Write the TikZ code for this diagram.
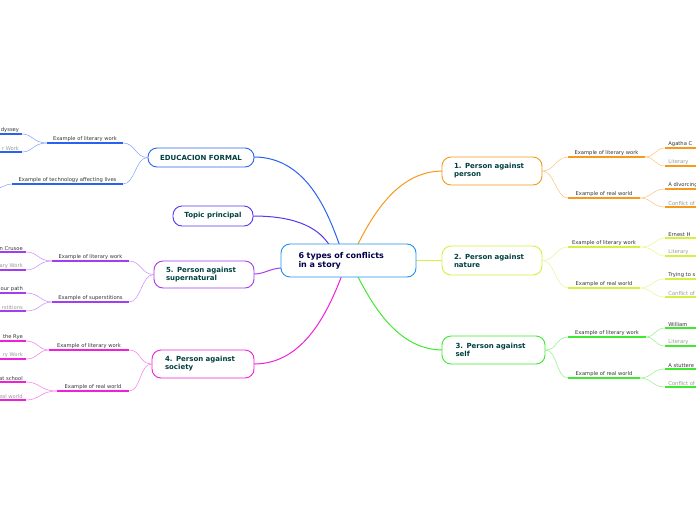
\documentclass[tikz,border=0pt]{standalone}
\usepackage{fontspec}
\setmainfont{DejaVu Sans}
\begin{document}
\begin{tikzpicture}[x=1pt,y=-1pt,
 mainbox/.style={draw=#1,line width=0.9pt,rounded corners=9pt,fill=white,text=teal!50!black,font=\fontsize{7}{8}\selectfont\bfseries,align=left,inner sep=0pt},
 lbl/.style={font=\fontsize{5.2}{6}\selectfont,text=black!80,inner sep=1pt},
 gry/.style={font=\fontsize{5.2}{6}\selectfont,text=black!40,inner sep=1pt},
 ul/.style={draw=#1,line width=1.3pt},
 cn/.style={draw=#1!60,line width=0.5pt}]
\definecolor{cblue}{HTML}{2A62F0}\definecolor{cpb}{HTML}{5B35F0}\definecolor{cpur}{HTML}{A43CF0}
\definecolor{cmag}{HTML}{F020D8}\definecolor{cor}{HTML}{F59A1A}\definecolor{cyel}{HTML}{D4F040}\definecolor{cgr}{HTML}{40E830}
\useasboundingbox (0,0) rectangle (696,520);
\clip (0,0) rectangle (696,520);
\draw[cblue,line width=1pt] (254,157) .. controls (310,157) and (330,220) .. (340,246);
\draw[cpb,line width=1pt] (253,216) .. controls (300,216) and (320,230) .. (330,246);
\draw[cpur,line width=1pt] (254,274) .. controls (265,274) and (270,268) .. (283,268);
\draw[cmag,line width=1pt] (254,364) .. controls (300,364) and (325,320) .. (342,275);
\draw[cor,line width=1pt] (443,171) .. controls (400,171) and (375,210) .. (357,246);
\draw[cyel,line width=1pt] (443,260) -- (414,260);
\draw[cgr,line width=1pt] (443,350) .. controls (400,350) and (375,310) .. (357,275);
\node[mainbox=cblue!70!cyan,minimum width=135pt,minimum height=33pt,text=blue!30!black,font=\fontsize{8}{9}\selectfont\bfseries,text width=100pt] (c) at (348.5,260.5) {6 types of conflicts\\in a story};
\node[mainbox=cblue,minimum width=106pt,minimum height=19pt,align=center] (edu) at (201,157.5) {EDUCACION FORMAL};
\node[mainbox=cpb,minimum width=80pt,minimum height=20pt,align=center] (top) at (213,216) {Topic principal};
\node[mainbox=cpur,minimum width=100pt,minimum height=27pt,text width=76pt] (sup) at (204,274.5) {5. Person against\\ supernatural};
\node[mainbox=cmag,minimum width=102pt,minimum height=28pt,text width=76pt] (soc) at (203,364) {4. Person against\\society};
\node[mainbox=cor,minimum width=100pt,minimum height=28pt,text width=76pt] (per) at (492,171) {1. Person against\\ person};
\node[mainbox=cyel,minimum width=100pt,minimum height=29pt,text width=76pt] (nat) at (492,260.5) {2. Person against\\ nature};
\node[mainbox=cgr,minimum width=103pt,minimum height=28pt,text width=76pt] (self) at (493.5,350) {3. Person against\\self};
\foreach \col/\pn/\ya/\yb/\la/\lb/\tA/\tB/\tC/\tD/\xe/\xeb in {
 cor/per/157/198/{Example of literary work}/{Example of real world}/{Agatha C}/{Literary}/{A divorcing}/{Conflict of}/645/640,
 cyel/nat/247/288/{Example of literary work}/{Example of real world}/{Ernest H}/{Literary}/{Trying to s}/{Conflict of}/640/640,
 cgr/self/337/378/{Example of literary work}/{Example of real world}/{William}/{Literary}/{A stuttere}/{Conflict of}/646/640}{
 \draw[cn=\col] (\pn.east) .. controls ++(12,0) and (556,\ya) .. (568,\ya);
 \draw[cn=\col] (\pn.east) .. controls ++(12,0) and (556,\yb) .. (568,\yb);
 \draw[ul=\col] (568,\ya) -- (\xe,\ya) node[lbl,midway,above] {\la};
 \draw[ul=\col] (568,\yb) -- (\xeb,\yb) node[lbl,midway,above] {\lb};
 \draw[cn=\col] (\xe,\ya) .. controls (655,\ya) and (655,\ya-9) .. (665,\ya-9);
 \draw[cn=\col] (\xe,\ya) .. controls (655,\ya) and (655,\ya+9) .. (665,\ya+9);
 \draw[cn=\col] (\xeb,\yb) .. controls (652,\yb) and (652,\yb-9) .. (665,\yb-9);
 \draw[cn=\col] (\xeb,\yb) .. controls (652,\yb) and (652,\yb+9) .. (665,\yb+9);
 \draw[ul=\col] (665,\ya-9) -- (700,\ya-9) node[lbl,pos=0.05,above right] {\tA};
 \draw[ul=\col] (665,\ya+9) -- (700,\ya+9) node[gry,pos=0.05,above right] {\tB};
 \draw[ul=\col] (665,\yb-9) -- (700,\yb-9) node[lbl,pos=0.05,above right] {\tC};
 \draw[ul=\col] (665,\yb+9) -- (700,\yb+9) node[gry,pos=0.05,above right] {\tD};
}
\foreach \col/\pn/\ya/\yb/\xa/\xb/\la/\lb/\tA/\tB/\tC/\tD in {
 cpur/sup/261/302/52/52/{Example of literary work}/{Example of superstitions}/{n Crusoe}/{ary Work}/{our path}/{rstitions},
 cmag/soc/350/391/49/57/{Example of literary work}/{Example of real world}/{the Rye}/{ry Work}/{s at school}/{real world}}{
 \draw[cn=\col] (\pn.west) .. controls ++(-12,0) and (141,\ya) .. (129,\ya);
 \draw[cn=\col] (\pn.west) .. controls ++(-12,0) and (141,\yb) .. (129,\yb);
 \draw[ul=\col] (129,\ya) -- (\xa,\ya) node[lbl,midway,above] {\la};
 \draw[ul=\col] (129,\yb) -- (\xb,\yb) node[lbl,midway,above] {\lb};
 \draw[cn=\col] (\xa,\ya) .. controls (38,\ya) and (38,\ya-9) .. (26,\ya-9);
 \draw[cn=\col] (\xa,\ya) .. controls (38,\ya) and (38,\ya+9) .. (26,\ya+9);
 \draw[cn=\col] (\xb,\yb) .. controls (40,\yb) and (40,\yb-9) .. (26,\yb-9);
 \draw[cn=\col] (\xb,\yb) .. controls (40,\yb) and (40,\yb+9) .. (26,\yb+9);
 \draw[ul=\col] (26,\ya-9) -- (-5,\ya-9) node[lbl,pos=0.05,above left] {\tA};
 \draw[ul=\col] (26,\ya+9) -- (-5,\ya+9) node[gry,pos=0.05,above left] {\tB};
 \draw[ul=\col] (26,\yb-9) -- (-5,\yb-9) node[lbl,pos=0.05,above left] {\tC};
 \draw[ul=\col] (26,\yb+9) -- (-5,\yb+9) node[gry,pos=0.05,above left] {\tD};
}
\draw[cn=cblue] (edu.west) .. controls ++(-12,0) and (135,143) .. (123,143);
\draw[cn=cblue] (edu.west) .. controls ++(-12,0) and (135,184) .. (123,184);
\draw[ul=cblue] (123,143) -- (47,143) node[lbl,midway,above] {Example of literary work};
\draw[ul=cblue] (123,184) -- (12,184) node[lbl,midway,above] {Example of technology affecting lives};
\draw[cn=cblue] (47,143) .. controls (33,143) and (33,134) .. (22,134);
\draw[cn=cblue] (47,143) .. controls (33,143) and (33,152) .. (22,152);
\draw[ul=cblue] (22,134) -- (-5,134) node[lbl,pos=0.05,above left] {dyssey};
\draw[ul=cblue] (22,152) -- (-5,152) node[gry,pos=0.05,above left] {r Work};
\draw[cn=cblue] (12,184) .. controls (5,184) and (3,188) .. (-5,189);
\end{tikzpicture}
\end{document}
